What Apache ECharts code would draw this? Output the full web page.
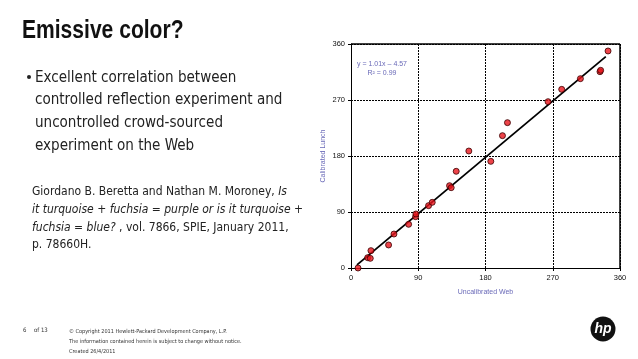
<!DOCTYPE html>
<html><head><meta charset="utf-8">
<script src="https://cdn.jsdelivr.net/npm/echarts@6/dist/echarts.min.js"></script>
<style>html,body{margin:0;padding:0;background:#fff}#c{width:638px;height:359px}</style>
</head><body><div id="c"></div>
<script>
// Data
const webHue = [9.4, 22.3, 25.8, 26.7, 50.3, 57.5, 77.1, 86.4, 86.9, 103.8, 108.7, 131.9, 134.1, 140.8, 157.7, 187.1, 202.7, 209.4, 263.7, 282, 307, 333.2, 334.1, 344];
const lunchHue = [0, 16.6, 15.5, 27.9, 37, 54.6, 70.2, 82.5, 86.8, 100.2, 105.5, 132.3, 129.1, 155.4, 188, 171.4, 212.7, 233.6, 267.3, 287.1, 304.3, 315.5, 317.7, 348.8];
const fitX = [8, 341];
const fitY = [5, 339.8];
const tickValues = [0, 90, 180, 270, 360];
const eqText = ['y = 1.01x \u2013 4.57', 'R\u00b2 = 0.99'];

const points = webHue.map((x, i) => [x, lunchHue[i]]);
const fitLine = fitX.map((x, i) => [x, fitY[i]]);

const chart = echarts.init(document.getElementById('c'), null, {renderer: 'canvas'});
const F = 'Liberation Sans';
const C = '"DejaVu Sans Condensed", "DejaVu Sans"';
const blue = '#6a6ab8';
chart.setOption({
  animation: false,
  backgroundColor: '#fff',
  grid: {left: 351, right: 18, top: 44, bottom: 91},
  xAxis: {
    type: 'value', min: tickValues[0], max: tickValues[tickValues.length - 1], interval: 90,
    name: 'Uncalibrated Web', nameLocation: 'middle', nameGap: 21,
    nameTextStyle: {color: blue, fontFamily: F, fontSize: 7},
    axisLine: {lineStyle: {color: '#000', width: 1}},
    axisTick: {show: true, length: 3, inside: false, lineStyle: {color: '#000'}},
    axisLabel: {color: '#111', fontFamily: F, fontSize: 7.5, margin: 6},
    splitLine: {show: true, lineStyle: {color: '#000', type: [2, 1], width: 1}}
  },
  yAxis: {
    type: 'value', min: tickValues[0], max: tickValues[tickValues.length - 1], interval: 90,
    name: 'Calibrated Lunch', nameLocation: 'middle', nameGap: 24, nameRotate: 90,
    nameTextStyle: {color: blue, fontFamily: F, fontSize: 7},
    axisLine: {lineStyle: {color: '#000', width: 1}},
    axisTick: {show: true, length: 3, lineStyle: {color: '#000'}},
    axisLabel: {color: '#111', fontFamily: F, fontSize: 7.5, margin: 6},
    splitLine: {show: true, lineStyle: {color: '#000', type: [2, 1], width: 1}}
  },
  series: [
    {type: 'line', data: fitLine, symbol: 'none', lineStyle: {color: '#000', width: 1.8}, z: 3},
    {type: 'scatter', data: points, symbolSize: 6,
     itemStyle: {color: '#e8141c', borderColor: '#3a0000', borderWidth: 1}, z: 4}
  ],
  graphic: [
    {type: 'rect', shape: {x: 620, y: 44, width: 0, height: 224}, style: {stroke: '#000', lineWidth: 1, fill: 'none'}},
    {type: 'rect', shape: {x: 351, y: 44, width: 269, height: 0}, style: {stroke: '#000', lineWidth: 1, fill: 'none'}},
    {type: 'text', x: 382, y: 60, style: {text: eqText[0] + '\n' + eqText[1], fill: blue, font: '7px ' + F, textAlign: 'center', lineHeight: 9}},
    {type: 'text', x: 22, y: 18, scaleX: 0.81, style: {text: 'Emissive color?', fill: '#111', font: 'bold 26px "Liberation Sans"'}},
    {type: 'circle', shape: {cx: 29, cy: 77, r: 2}, style: {fill: '#222'}},
    {type: 'text', x: 35, y: 66, scaleX: 0.94, style: {text: 'Excellent correlation between\ncontrolled reflection experiment and\nuncontrolled crowd-sourced\nexperiment on the Web', fill: '#222', font: '16px ' + C, lineHeight: 22.7}},
    {type: 'text', x: 32, y: 183, style: {rich: {
        n: {font: '12px ' + C, fill: '#222', lineHeight: 17.8},
        i: {font: 'italic 12px ' + C, fill: '#222', lineHeight: 17.8}},
      text: '{n|Giordano B. Beretta and Nathan M. Moroney, }{i|Is}\n{i|it turquoise + fuchsia = purple or is it turquoise +}\n{i|fuchsia = blue? }{n|, vol. 7866, SPIE, January 2011,}\n{n|p. 78660H.}'}},
    {type: 'text', x: 23, y: 327, style: {text: '6', fill: '#333', font: '6px ' + C}},
    {type: 'text', x: 34, y: 327, style: {text: 'of 13', fill: '#333', font: '6px ' + C}},
    {type: 'text', x: 69, y: 327, style: {text: '\u00a9 Copyright 2011 Hewlett-Packard Development Company, L.P.\nThe information contained herein is subject to change without notice.\nCreated 26/4/2011', fill: '#333', font: '5.5px ' + C, lineHeight: 10}},
    {type: 'circle', shape: {cx: 603, cy: 329, r: 12.5}, style: {fill: '#111'}},
    {type: 'text', x: 603, y: 329, style: {text: 'hp', fill: '#fff', font: 'italic bold 14px "Liberation Sans"', textAlign: 'center', textVerticalAlign: 'middle'}}
  ]
});
</script></body></html>
